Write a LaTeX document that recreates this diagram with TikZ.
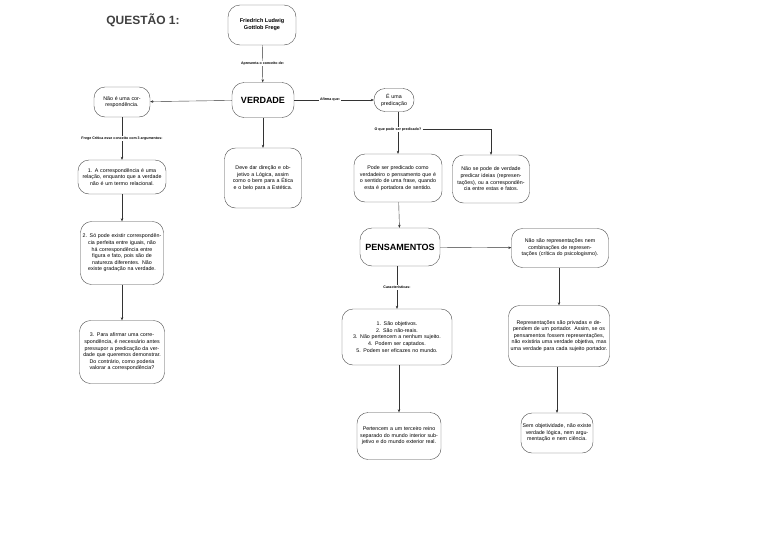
\documentclass[tikz,border=0pt]{standalone}
\usepackage{fontspec}
\setmainfont{Liberation Sans}
\usetikzlibrary{arrows.meta}
\begin{document}
\begin{tikzpicture}[x=1pt,y=-1pt,
 box/.style={draw=black!70,rounded corners=11pt,align=center,font=\fontsize{5.3}{6.6}\selectfont,inner sep=1pt,minimum height=#1},
 box/.default=20,
 big/.style={draw=black!70,rounded corners=12pt,align=center,font=\bfseries\fontsize{9}{10}\selectfont},
 lab/.style={fill=white,font=\bfseries\fontsize{3.6}{4}\selectfont,inner sep=1pt},
 ar/.style={draw=black!80,-{Stealth[length=3pt,width=2.5pt]}}]
\useasboundingbox (0,0) rectangle (768,557);
\node[font=\bfseries\fontsize{12}{14}\selectfont,text=black!75] (title) at (143,20) {QUESTÃO 1:};
\node[big,minimum width=68,minimum height=40,font=\bfseries\fontsize{5.5}{7}\selectfont] (frege) at (262,25) {Friedrich Ludwig\\Gottlob Frege};
\node[big,minimum width=62,minimum height=35] (verdade) at (263,100) {VERDADE};
\node[box=30,minimum width=56,text width=54] (nao) at (122,102) {Não é uma correspondência.};
\node[box=34,minimum width=88,text width=84] (a1) at (122,177) {1. A correspondência é uma relação, enquanto que a verdade não é um termo relacional.};
\node[box=63,minimum width=83,text width=81] (a2) at (122,253) {2. Só pode existir correspondência perfeita entre iguais, não há correspondência entre figura e fato, pois são de natureza diferentes. Não existe gradação na verdade.};
\node[box=63,minimum width=85,text width=82] (a3) at (122,352) {3. Para afirmar uma correspondência, é necessário antes pressupor a predicação da verdade que queremos demonstrar. Do contrário, como poderia valorar a correspondência?};
\node[box=60,minimum width=77,text width=74] (deve) at (263,178) {Deve dar direção e objetivo a Lógica, assim como o bem para a Ética e o belo para a Estética.};
\node[box=23,minimum width=40,text width=36] (pred) at (394,100) {É uma predicação};
\node[box=48,minimum width=88,text width=82] (pode) at (398,178) {Pode ser predicado como verdadeiro o pensamento que é o sentido de uma frase, quando esta é portadora de sentido.};
\node[box=48,minimum width=77,text width=75] (naop) at (491,179) {Não se pode de verdade predicar ideias (representações), ou a correspondência entre estas e fatos.};
\node[big,minimum width=80,minimum height=38] (pens) at (400,247) {PENSAMENTOS};
\node[box=39,minimum width=97,text width=86] (nrep) at (560,248) {Não são representações nem combinações de representações (crítica do psicologismo).};
\node[box=56,minimum width=110,text width=108] (lista) at (397,337) {1. São objetivos.\\2. São não-reais.\\3. Não pertencem a nenhum sujeito.\\4. Podem ser captados.\\5. Podem ser eficazes no mundo.};
\node[box=47,minimum width=84,text width=82] (pert) at (399,436) {Pertencem a um terceiro reino separado do mundo interior subjetivo e do mundo exterior real.};
\node[box=61,minimum width=101,text width=99] (rep) at (559,336) {Representações são privadas e dependem de um portador. Assim, se os pensamentos fossem representações, não existiria uma verdade objetiva, mas uma verdade para cada sujeito portador.};
\node[box=40,minimum width=72,text width=70] (sem) at (557,433) {Sem objetividade, não existe verdade lógica, nem argumentação e nem ciência.};
\draw[ar] (frege) -- node[lab]{Apresenta o conceito de:} (verdade);
\draw[ar] (verdade) -- (nao);
\draw[ar] (verdade) -- (deve);
\draw[ar] (verdade) -- node[lab,pos=0.45]{Afirma que:} (pred);
\draw[ar] (nao) -- node[lab,pos=0.5]{Frege Critica esse conceito com 3 argumentos:} (a1);
\draw[ar] (a1) -- (a2);
\draw[ar] (a2) -- (a3);
\draw[ar] (pred.south -| pode.north) -- node[lab,pos=0.42](q){O que pode ser predicado?} (pode.north);
\draw[ar] (q.east) -- (q.east -| naop.north) -- (naop.north);
\draw[ar] (pode) -- (pens);
\draw[ar] (pens) -- (nrep);
\draw[ar] (pens.south -| lista.north) -- node[lab]{Características:} (lista.north);
\draw[ar] (lista.south -| pert.north) -- (pert.north);
\draw[ar] (nrep.south -| rep.north) -- (rep.north);
\draw[ar] (rep.south -| sem.north) -- (sem.north);
\end{tikzpicture}
\end{document}
